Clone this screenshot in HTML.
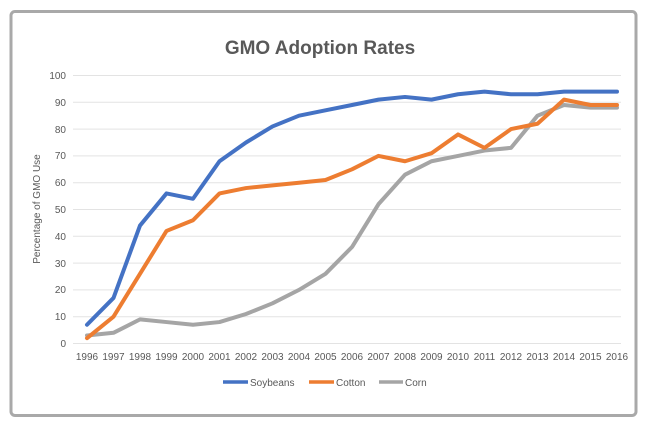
<!DOCTYPE html>
<html><head><style>body{margin:0;background:#fff}</style></head><body>
<svg width="650" height="428" xmlns="http://www.w3.org/2000/svg" font-family="Liberation Sans, sans-serif">
<rect x="11" y="11.5" width="625" height="404" rx="4" fill="#fff" stroke="#a9a9a9" stroke-width="3"/>
<text x="320" y="54" text-anchor="middle" font-size="19" font-weight="bold" fill="#595959">GMO Adoption Rates</text>
<g stroke="#e3e3e3" stroke-width="1">
<line x1="73" x2="621" y1="75.5" y2="75.5"/><line x1="73" x2="621" y1="102.3" y2="102.3"/>
<line x1="73" x2="621" y1="129.1" y2="129.1"/><line x1="73" x2="621" y1="155.9" y2="155.9"/>
<line x1="73" x2="621" y1="182.7" y2="182.7"/><line x1="73" x2="621" y1="209.5" y2="209.5"/>
<line x1="73" x2="621" y1="236.3" y2="236.3"/><line x1="73" x2="621" y1="263.1" y2="263.1"/>
<line x1="73" x2="621" y1="289.9" y2="289.9"/><line x1="73" x2="621" y1="316.7" y2="316.7"/>
<line x1="73" x2="621" y1="343.5" y2="343.5"/>
</g>
<g font-size="10" fill="#595959" text-anchor="end">
<text x="66" y="79">100</text><text x="66" y="106">90</text><text x="66" y="133">80</text><text x="66" y="159">70</text><text x="66" y="186">60</text><text x="66" y="213">50</text><text x="66" y="240">40</text><text x="66" y="267">30</text><text x="66" y="293">20</text><text x="66" y="320">10</text><text x="66" y="347">0</text>
</g>
<text transform="translate(40,209) rotate(-90)" text-anchor="middle" font-size="10" fill="#595959">Percentage of GMO Use</text>
<g font-size="10" fill="#595959" text-anchor="middle">
<text x="87" y="360">1996</text><text x="113.5" y="360">1997</text><text x="140" y="360">1998</text><text x="166.5" y="360">1999</text><text x="193" y="360">2000</text><text x="219.5" y="360">2001</text><text x="246" y="360">2002</text><text x="272.5" y="360">2003</text><text x="299" y="360">2004</text><text x="325.5" y="360">2005</text><text x="352" y="360">2006</text><text x="378.5" y="360">2007</text><text x="405" y="360">2008</text><text x="431.5" y="360">2009</text><text x="458" y="360">2010</text><text x="484.5" y="360">2011</text><text x="511" y="360">2012</text><text x="537.5" y="360">2013</text><text x="564" y="360">2014</text><text x="590.5" y="360">2015</text><text x="617" y="360">2016</text>
</g>
<g fill="none" stroke-width="4" stroke-linejoin="round" stroke-linecap="round">
<polyline id="corn" stroke="#a5a5a5" points=""/>
<polyline id="cot" stroke="#ed7d31" points=""/>
<polyline id="soy" stroke="#4472c4" points=""/>
</g>
<g font-size="10" fill="#595959">
<line x1="223" x2="248" y1="382" y2="382" stroke="#4472c4" stroke-width="3.5"/><text x="250" y="386">Soybeans</text>
<line x1="309" x2="334" y1="382" y2="382" stroke="#ed7d31" stroke-width="3.5"/><text x="336" y="386">Cotton</text>
<line x1="379" x2="403" y1="382" y2="382" stroke="#a5a5a5" stroke-width="3.5"/><text x="405" y="386">Corn</text>
</g>
</svg>
<script>
function pts(d){return d.map((v,i)=>(87+i*26.5)+","+(343.5-v*2.68)).join(" ");}
document.getElementById("soy").setAttribute("points",pts([7,17,44,56,54,68,75,81,85,87,89,91,92,91,93,94,93,93,94,94,94]));
document.getElementById("cot").setAttribute("points",pts([2,10,26,42,46,56,58,59,60,61,65,70,68,71,78,73,80,82,91,89,89]));
document.getElementById("corn").setAttribute("points",pts([3,4,9,8,7,8,11,15,20,26,36,52,63,68,70,72,73,85,89,88,88]));
</script>
</body></html>
